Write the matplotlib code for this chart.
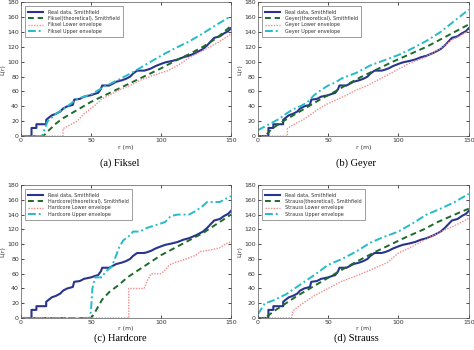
import matplotlib
matplotlib.use("Agg")
import matplotlib.pyplot as plt

# Real data (same for all panels): step function
real_r = [0, 7.5, 7.5, 11, 11, 18, 18, 20, 22, 25, 28, 30, 33, 37, 38, 42, 45, 50, 53, 55, 57, 58, 63, 65, 68, 72, 75, 78, 80, 83, 88, 90, 93, 96, 100, 103, 108, 112, 116, 120, 125, 128, 130, 133, 136, 138, 142, 145, 148, 150]
real_L = [0, 0, 11, 11, 16, 16, 22, 25, 28, 30, 33, 37, 40, 42, 49, 50, 53, 55, 57, 58, 63, 68, 68, 70, 73, 75, 77, 80, 84, 88, 88, 89, 91, 94, 97, 99, 101, 103, 106, 108, 112, 115, 117, 122, 128, 132, 134, 138, 141, 145]

# Fiksel
fik_theo_r = [0, 15, 17, 20, 25, 30, 40, 50, 60, 70, 80, 90, 100, 110, 120, 130, 140, 150]
fik_theo_L = [0, 0, 2, 8, 17, 24, 35, 46, 55, 64, 73, 82, 91, 101, 110, 120, 132, 148]
fik_low_r = [0, 30, 30, 35, 40, 45, 52, 58, 63, 70, 78, 85, 95, 105, 112, 120, 130, 140, 150]
fik_low_L = [0, 0, 10, 15, 20, 30, 40, 50, 55, 62, 68, 75, 82, 88, 95, 105, 115, 125, 137]
fik_up_r = [0, 15, 17, 19, 25, 33, 40, 50, 60, 70, 80, 90, 100, 110, 120, 130, 140, 150]
fik_up_L = [0, 0, 10, 20, 30, 40, 50, 56, 67, 76, 86, 97, 108, 118, 127, 138, 150, 161]

# Geyer
gey_theo_r = [0, 5, 10, 18, 27, 36, 45, 55, 64, 74, 85, 96, 108, 120, 130, 140, 150]
gey_theo_L = [0, 0, 10, 20, 30, 40, 50, 60, 70, 80, 90, 100, 110, 120, 130, 140, 150]
gey_low_r = [0, 21, 21, 25, 32, 37, 42, 48, 55, 63, 70, 78, 85, 92, 100, 108, 118, 130, 137, 145, 150]
gey_low_L = [0, 0, 10, 15, 22, 28, 35, 42, 48, 55, 62, 68, 75, 82, 90, 98, 105, 118, 128, 136, 142]
gey_up_r = [0, 5, 10, 15, 20, 25, 30, 35, 40, 45, 50, 55, 60, 70, 80, 90, 100, 110, 120, 130, 140, 150]
gey_up_L = [8, 13, 18, 23, 30, 36, 40, 45, 55, 62, 68, 72, 78, 85, 95, 102, 109, 118, 128, 140, 155, 170]

# Hardcore
hc_theo_r = [0, 50, 52, 55, 58, 63, 70, 76, 84, 92, 100, 110, 120, 130, 138, 150]
hc_theo_L = [0, 0, 5, 15, 25, 35, 45, 55, 65, 75, 85, 95, 105, 115, 125, 140]
hc_low_r = [0, 77, 77, 88, 90, 93, 100, 103, 106, 110, 118, 125, 128, 135, 142, 146, 150]
hc_low_L = [0, 0, 40, 40, 50, 60, 60, 65, 72, 75, 80, 85, 90, 92, 95, 100, 103]
hc_up_r = [0, 49, 50, 51, 53, 58, 60, 65, 67, 70, 73, 78, 80, 85, 90, 95, 100, 103, 107, 112, 120, 125, 130, 133, 142, 145, 150]
hc_up_L = [0, 0, 10, 40, 55, 55, 62, 70, 80, 95, 105, 112, 117, 117, 122, 125, 128, 130, 138, 140, 140, 145, 152, 157, 157, 160, 165]

# Strauss
st_theo_r = [0, 5, 12, 20, 28, 37, 46, 55, 64, 74, 84, 95, 106, 118, 128, 140, 150]
st_theo_L = [0, 0, 10, 20, 30, 40, 50, 60, 70, 80, 90, 100, 110, 120, 130, 140, 148]
st_low_r = [0, 24, 25, 32, 40, 50, 60, 70, 80, 92, 100, 110, 118, 128, 140, 150]
st_low_L = [0, 0, 10, 20, 30, 40, 50, 57, 65, 75, 88, 97, 105, 115, 125, 135]
st_up_r = [0, 5, 10, 20, 30, 40, 50, 60, 70, 80, 90, 100, 110, 120, 130, 140, 150]
st_up_L = [5, 20, 23, 32, 45, 58, 72, 80, 90, 102, 110, 117, 128, 140, 148, 157, 168]

panels = [
    ("Fiksel", "(a) Fiksel", fik_theo_r, fik_theo_L, fik_low_r, fik_low_L, fik_up_r, fik_up_L),
    ("Geyer", "(b) Geyer", gey_theo_r, gey_theo_L, gey_low_r, gey_low_L, gey_up_r, gey_up_L),
    ("Hardcore", "(c) Hardcore", hc_theo_r, hc_theo_L, hc_low_r, hc_low_L, hc_up_r, hc_up_L),
    ("Strauss", "(d) Strauss", st_theo_r, st_theo_L, st_low_r, st_low_L, st_up_r, st_up_L),
]

xticks = [0, 50, 100, 150]
yticks = [0, 20, 40, 60, 80, 100, 120, 140, 160, 180]

fig = plt.figure(figsize=(4.74, 3.5), dpi=100)
positions = [
    [0.0443, 0.611, 0.443, 0.383],
    [0.544, 0.611, 0.445, 0.383],
    [0.0443, 0.0914, 0.443, 0.38],
    [0.544, 0.0914, 0.445, 0.38],
]
caption_pos = [(0.253, 0.534), (0.751, 0.534), (0.253, 0.034), (0.751, 0.034)]

c_real = "#28348f"
c_theo = "#1d6b2a"
c_low = "#f08c8c"
c_up = "#25bcc8"

for i, (name, cap, tr, tL, lr, lL, ur, uL) in enumerate(panels):
    ax = fig.add_axes(positions[i])
    ax.plot(real_r, real_L, color=c_real, lw=1.5, label="Real data, Smithfield")
    ax.plot(tr, tL, color=c_theo, lw=1.4, ls=(0, (3, 2)), label=f"{name}(theoretical), Smithfield")
    ax.plot(lr, lL, color=c_low, lw=1.0, ls=(0, (1, 1)), label=f"{name} Lower envelope")
    ax.plot(ur, uL, color=c_up, lw=1.4, ls=(0, (4, 1.5, 1, 1.5)), label=f"{name} Upper envelope")
    ax.set_xlim(0, 150)
    ax.set_ylim(0, 180)
    ax.set_xticks(xticks)
    ax.set_yticks(yticks)
    ax.tick_params(direction="in", length=2, width=0.5, labelsize=4.5, labelcolor="#333333", pad=1.5,
                   top=True, right=True)
    for s in ax.spines.values():
        s.set_linewidth(0.5)
        s.set_color("#555555")
    ax.set_xlabel("r (m)", fontsize=4.5, labelpad=1, color="#333333")
    ax.set_ylabel("L(r)", fontsize=4.5, labelpad=1, color="#333333")
    leg = ax.legend(loc="upper left", fontsize=3.5, labelspacing=0.3, handlelength=3.1,
                    borderpad=0.6, handletextpad=1.0, frameon=True, fancybox=False,
                    edgecolor="#555555", borderaxespad=0.9)
    leg.get_frame().set_linewidth(0.5)
    for t in leg.get_texts():
        t.set_color("#333333")
    fig.text(caption_pos[i][0], caption_pos[i][1], cap, ha="center", va="center",
             fontsize=7.5, family="Liberation Serif")

fig.savefig("out.png", dpi=100)
